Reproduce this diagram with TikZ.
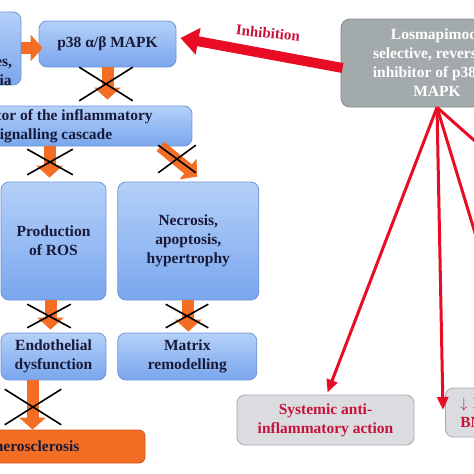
\documentclass[tikz,border=0pt]{standalone}
\usepackage{fontspec}
\setmainfont{Liberation Serif}
\usepackage{tikz}
\usetikzlibrary{positioning}
\usetikzlibrary{calc,arrows.meta,shapes.misc}

\definecolor{boxtop}{RGB}{180,208,249}
\definecolor{boxbot}{RGB}{122,166,238}
\definecolor{boxedge}{RGB}{112,150,215}
\definecolor{inktext}{RGB}{24,26,56}
\definecolor{flow}{RGB}{243,110,36}
\definecolor{flowedge}{RGB}{205,85,30}
\definecolor{drugfill}{RGB}{163,170,172}
\definecolor{drugedge}{RGB}{130,137,140}
\definecolor{effectfill}{RGB}{218,220,223}
\definecolor{effectedge}{RGB}{165,168,172}
\definecolor{inhibred}{RGB}{232,12,36}
\definecolor{labelred}{RGB}{200,18,60}

\newcommand{\boxtext}{\bfseries\fontsize{15.5}{19}\selectfont}

\begin{document}
\begin{tikzpicture}[x=1pt, y=-1pt,
    stage/.style   = {draw=boxedge, line width=0.8pt, rounded corners=8pt,
                      top color=boxtop, bottom color=boxbot,
                      text=inktext, font=\boxtext, align=center, inner sep=0pt},
    drug/.style    = {draw=drugedge, line width=0.8pt, rounded corners=9pt,
                      fill=drugfill, text=white, font=\boxtext, align=center, inner sep=0pt},
    effect/.style  = {draw=effectedge, line width=0.8pt, rounded corners=8pt,
                      fill=effectfill, text=labelred, font=\boxtext, inner sep=0pt},
    outcome/.style = {draw=flowedge, line width=0.8pt, rounded corners=6pt,
                      fill=flow, text=inktext, font=\boxtext, inner sep=0pt},
    flowarrow/.style  = {draw=flow, line width=12pt, -{Triangle[length=12pt, width=26pt]}},
    blocked/.style    = {cross out, draw=black, line width=1.6pt, inner sep=0pt},
    inhibition/.style = {draw=inhibred, line width=10pt, -{Triangle[length=18pt, width=26pt]}},
    spoke/.style      = {draw=inhibred, line width=3pt},
    spokearrow/.style = {spoke, -{Triangle[length=13pt, width=11pt]}},
  ]

    \useasboundingbox (0,0) rectangle (474,474);
    \clip (0,0) rectangle (474,474);

    %Pathway boxes
    \node[stage, minimum width=102pt, minimum height=73pt] (Stress) at (-30,48.5) {};
    \node[text=inktext, font=\boxtext, align=center] (StressText) at (-21,71) {cytokines,\\ ischaemia};

    \node[stage, minimum width=137pt, minimum height=46pt] (Mapk) at (107.5,44) {p38 α/β MAPK};

    \node[stage, minimum width=278pt, minimum height=40pt] (Cascade) at (53,126)
        {Activator of the inflammatory\\ signalling cascade};

    \node[stage, minimum width=105pt, minimum height=118pt] (Ros) at (53.5,241) {Production\\ of ROS};
    \node[stage, minimum width=141pt, minimum height=118pt, right = 11pt of Ros] (Necrosis)
        {Necrosis,\\ apoptosis,\\ hypertrophy};

    \node[stage, minimum width=105pt, minimum height=47pt] (Endothelium) at (53.5,356.5) {Endothelial\\ dysfunction};
    \node[stage, minimum width=139pt, minimum height=47pt, right = 11pt of Endothelium] (Matrix)
        {Matrix\\ remodelling};

    \node[outcome, minimum width=232pt, minimum height=33pt] (Athero) at (29,446.5) {Atherosclerosis};

    %Drug and its effects
    \node[drug, minimum width=192pt, minimum height=88pt] (Drug) at (437,63)
        {Losmapimod:\\ selective, reversible\\ inhibitor of p38 α/β\\ MAPK};

    \node[effect, align=center, minimum width=177pt, minimum height=50pt] (Systemic) at (325.5,420)
        {Systemic anti-\\ inflammatory action};

    \node[effect, align=left, text width=120pt, inner xsep=15pt, minimum height=49pt,
          anchor=west] (Bnp) at (445,412.5) {$\downarrow$ Levels of\\ BNP};

    \coordinate (OffRight) at (502,165);
    \coordinate (OffLow) at (492,289);

    %-------------------------------------------
    %Flow arrows
    \draw[flowarrow] (Stress.east |- Mapk.east) ++(0,4) -- ($(Mapk.west)+(4,4)$);
    \draw[flowarrow] (Mapk.south) -- ($(Mapk.south |- Cascade.north)+(0,-6)$);
    \draw[flowarrow] ($(Ros.north |- Cascade.south)+(-4,0)$) -- ($(Ros.north)+(-4,-4)$);
    \draw[flowarrow] ($(Cascade.south east)+(-32,0)$) -- ($(Necrosis.north)+(9,-5)$);
    \draw[flowarrow] ($(Ros.south)+(-3,0)$) -- ($(Endothelium.north)+(-3,-3)$);
    \draw[flowarrow] (Necrosis.south) -- ($(Matrix.north)+(1,-1)$);
    \draw[flowarrow] ($(Endothelium.south)+(-21,0)$) -- ($(Endothelium.south |- Athero.north)+(-21,0)$);

    %Crosses
    \node[blocked, minimum width=52pt, minimum height=32pt] (CrossMapk) at (106,84) {};
    \node[blocked, minimum width=44pt, minimum height=24pt] (CrossRos) at (50,162) {};
    \node[blocked, minimum width=36pt, minimum height=26pt] (CrossNecrosis) at (177,159) {};
    \node[blocked, minimum width=42pt, minimum height=22pt] (CrossEndo) at (49,316) {};
    \node[blocked, minimum width=41pt, minimum height=22pt] (CrossMatrix) at (187,316) {};
    \node[blocked, minimum width=55pt, minimum height=34pt] (CrossAthero) at (33,407) {};

    %Drug connectors
    \draw[inhibition] ($(Drug.west)+(2,5)$) -- ($(Mapk.east)+(4,-6)$);
    \draw[spokearrow] (Drug.south) -- ($(Systemic.north)+(2,-2)$);
    \draw[spokearrow] (Drug.south) -- ($(Bnp.west)+(-2,-2.5)$);
    \draw[spoke] (Drug.south) -- (OffRight);
    \draw[spoke] (Drug.south) -- (OffLow);

    %Labels
    \node[font=\bfseries\fontsize{15}{18}\selectfont, text=labelred, rotate=-6] (InhibLabel) at (268,33) {Inhibition};

\end{tikzpicture}
\end{document}
